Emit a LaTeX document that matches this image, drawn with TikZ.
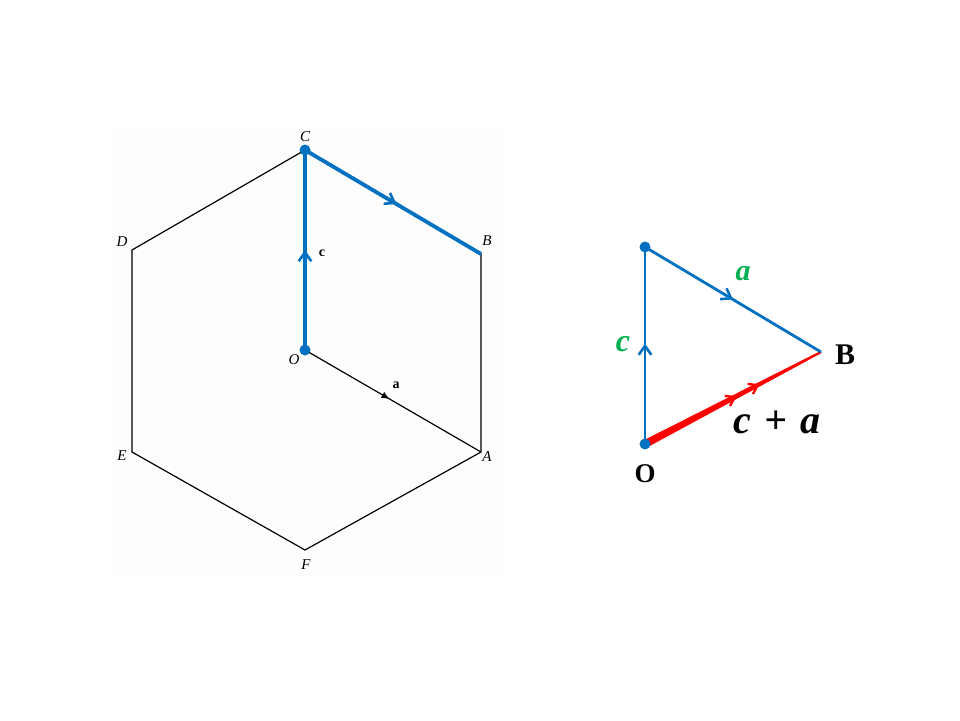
\documentclass[tikz,border=0pt]{standalone}
\usepackage{fontspec}
\setmainfont{Liberation Serif}
\usetikzlibrary{calc,arrows.meta,decorations.markings}
\definecolor{vblue}{HTML}{0070C0}
\definecolor{vgreen}{HTML}{00B050}
\begin{document}
\begin{tikzpicture}[x=1pt,y=-1pt]

    \tikzset{
      hexline/.style={
        color={black},
        line width=1.2pt,
      },
      vec/.style={
        color={vblue},
        line width=3.8pt,
      },
      chevron/.style={
        postaction={decorate},
        decoration={markings,
          mark=at position #1 with {\arrow{Straight Barb[angle=70:11pt,line width=2.6pt]}}},
      },
      tinyhead/.style={
        postaction={decorate},
        decoration={markings,
          mark=at position #1 with {\arrow{Latex[length=8pt,width=7pt]}}},
      },
      dot/.style={
        circle,
        fill={vblue},
        inner sep=0pt,
        minimum size=11pt,
      },
      hexlabel/.style={
        font=\fontsize{15}{17}\selectfont\itshape,
      },
    }
    \useasboundingbox (0,0) rectangle (960,720);
    \fill[gray!1.5] (110,130) rectangle (503,577);

    % hexagon
    \coordinate (C) at (305,150);
    \coordinate (B) at (481,254);
    \coordinate (A) at (481,452);
    \coordinate (F) at (305,550);
    \coordinate (E) at (132,452);
    \coordinate (D) at (132,250);
    \coordinate (O) at (305,350);
    \draw[hexline] (C) -- (B) -- (A) -- (F) -- (E) -- (D) -- cycle;
    \draw[hexline,tinyhead=0.5] (O) -- (C);
    \draw[hexline,tinyhead=0.48] (O) -- (A);
    \draw[vec,chevron=0.5] (O) -- (C);
    \draw[vec,chevron=0.52] (C) -- (B);
    \node[dot] at (O) {};
    \node[dot] at (C) {};
    \node[hexlabel] (labC) at (305,137) {C};
    \node[hexlabel] (labD) at (122,242) {D};
    \node[hexlabel] (labB) at (487,241) {B};
    \node[hexlabel] (labO) at (294,360) {O};
    \node[hexlabel] (labA) at (487,457) {A};
    \node[hexlabel] (labE) at (122,456) {E};
    \node[hexlabel] (labF) at (306,565) {F};
    \node[font=\fontsize{14}{16}\selectfont\bfseries] (labc) at (322,253) {c};
    \node[font=\fontsize{14}{16}\selectfont\bfseries] (laba) at (396,385) {a};

    % triangle
    \coordinate (T) at (645,247);
    \coordinate (O2) at (645,444);
    \coordinate (B2) at (821,352);
    \fill[red] ($(O2)+(-1.7,-3.6)$) -- ($(B2)+(-0.5,-1)$) -- ($(B2)+(0.5,1)$) -- ($(O2)+(1.7,3.6)$) -- cycle;
    \draw[color={red},line width=1pt,
      postaction={decorate},
      decoration={markings,
        mark=at position 0.52 with {\arrow{Straight Barb[angle=70:10pt,line width=2.4pt]}},
        mark=at position 0.65 with {\arrow{Straight Barb[angle=70:10pt,line width=2.4pt]}}}] (O2) -- (B2);
    \draw[vec,line width=2.8pt,chevron=0.51] (O2) -- (T);
    \draw[vec,line width=2.8pt,chevron=0.5] (T) -- (B2);
    \node[dot] at (T) {};
    \node[dot] at (O2) {};
    \node[color={vgreen},font=\fontsize{30}{32}\selectfont\bfseries\itshape] (laba2) at (743,274) {a};
    \node[color={vgreen},font=\fontsize{32}{34}\selectfont\bfseries\itshape] (labc2) at (623,344) {c};
    \node[font=\fontsize{30}{32}\selectfont\bfseries] (labB2) at (845,355) {B};
    \node[font=\fontsize{27}{30}\selectfont\bfseries] (labO2) at (645,474) {O};
    \node[font=\fontsize{40}{44}\selectfont\bfseries\itshape] (labca) at (777,422) {c\,\,+\,\,a};

\end{tikzpicture}
\end{document}
